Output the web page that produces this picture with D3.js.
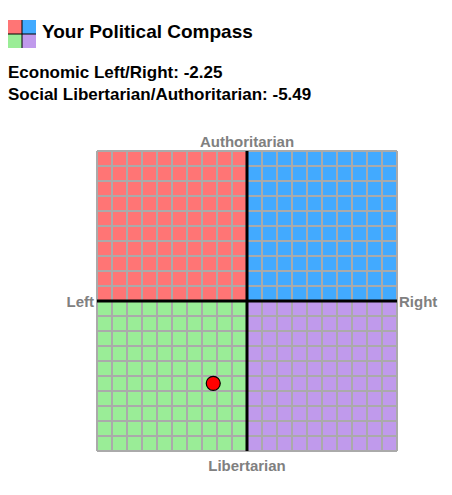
<!DOCTYPE html><html><head><script src="https://cdn.jsdelivr.net/npm/d3@7"></script>
<style>body{margin:0;background:#fff}</style></head><body><svg id="c" width="452" height="495"></svg>
<script>
const quadrants=[{name:"auth-left",x0:-10,y0:0,color:"#ff7575"},{name:"auth-right",x0:0,y0:0,color:"#42aaff"},{name:"lib-left",x0:-10,y0:-10,color:"#9aed97"},{name:"lib-right",x0:0,y0:-10,color:"#c09aec"}];
const gridTicks=d3.range(-10,10.01,1);
const point={economic:-2.25,social:-5.49};
const axisLabels={top:"Authoritarian",bottom:"Libertarian",left:"Left",right:"Right"};
const svg=d3.select("#c");
const x=d3.scaleLinear().domain([-10,10]).range([97,397]);
const y=d3.scaleLinear().domain([-10,10]).range([451,151]);
// logo
const lg=svg.append("g").attr("transform","translate(8,20)");
[["#ff7575",0,0],["#42aaff",14,0],["#9aed97",0,14],["#c09aec",14,14]].forEach(d=>lg.append("rect").attr("x",d[1]).attr("y",d[2]).attr("width",14).attr("height",14).attr("fill",d[0]));
lg.append("line").attr("x1",14).attr("x2",14).attr("y1",0).attr("y2",28).attr("stroke","#000").attr("stroke-width",1);
lg.append("line").attr("y1",14).attr("y2",14).attr("x1",0).attr("x2",28).attr("stroke","#000").attr("stroke-width",1);
const tf="Liberation Sans, Arial, sans-serif";
svg.append("text").attr("x",42).attr("y",38).attr("font-family",tf).attr("font-weight","bold").attr("font-size",19).text("Your Political Compass");
svg.append("text").attr("x",8).attr("y",78).attr("font-family",tf).attr("font-weight","bold").attr("font-size",17).text("Economic Left/Right: "+point.economic.toFixed(2));
svg.append("text").attr("x",8).attr("y",100).attr("font-family",tf).attr("font-weight","bold").attr("font-size",17).text("Social Libertarian/Authoritarian: "+point.social.toFixed(2));
svg.selectAll("rect.q").data(quadrants).enter().append("rect").attr("x",d=>x(d.x0)).attr("y",d=>y(d.y0+10)).attr("width",x(10)-x(0)).attr("height",y(0)-y(10)).attr("fill",d=>d.color);
svg.selectAll("line.v").data(gridTicks).enter().append("line").attr("x1",d=>x(d)).attr("x2",d=>x(d)).attr("y1",y(10)).attr("y2",y(-10)).attr("stroke","#aaa").attr("stroke-width",2);
svg.selectAll("line.h").data(gridTicks).enter().append("line").attr("y1",d=>y(d)).attr("y2",d=>y(d)).attr("x1",x(-10)).attr("x2",x(10)).attr("stroke","#aaa").attr("stroke-width",2);
svg.append("line").attr("x1",x(0)).attr("x2",x(0)).attr("y1",y(10)).attr("y2",y(-10)).attr("stroke","#000").attr("stroke-width",3);
svg.append("line").attr("y1",y(0)).attr("y2",y(0)).attr("x1",x(-10)).attr("x2",x(10)).attr("stroke","#000").attr("stroke-width",3);
const lab=(t,xx,yy,a)=>svg.append("text").attr("x",xx).attr("y",yy).attr("text-anchor",a).attr("font-family",tf).attr("font-weight","bold").attr("font-size",15).attr("fill","#808080").text(t);
lab(axisLabels.top,x(0),147,"middle");
lab(axisLabels.bottom,x(0),471,"middle");
lab(axisLabels.left,94,307,"end");
lab(axisLabels.right,399,307,"start");
svg.append("circle").attr("cx",x(point.economic)).attr("cy",y(point.social)).attr("r",7).attr("fill","#f00").attr("stroke","#000").attr("stroke-width",1.2);
</script></body></html>
